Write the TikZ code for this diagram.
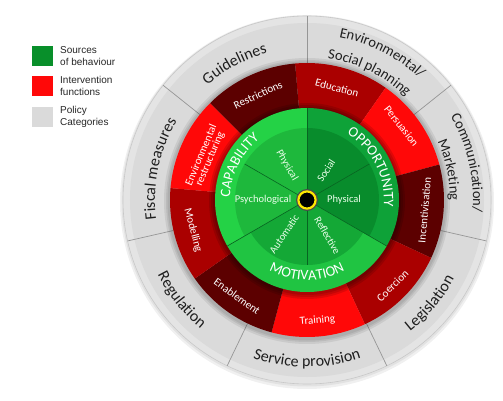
\documentclass[tikz,border=0pt]{standalone}
\usepackage{fontspec}
\setmainfont{Carlito}
\newfontfamily\legfont{Liberation Sans}
\usetikzlibrary{decorations.text}
\definecolor{rimgrey}{RGB}{228,228,228}
\definecolor{rimline}{RGB}{200,200,200}
\definecolor{ringgrey}{RGB}{218,218,218}
\definecolor{sepgrey}{RGB}{150,150,150}
\definecolor{redbright}{RGB}{255,8,8}
\definecolor{redmid}{RGB}{170,0,0}
\definecolor{reddark}{RGB}{92,0,0}
\definecolor{capband}{RGB}{36,210,70}
\definecolor{capin}{RGB}{30,184,60}
\definecolor{oppband}{RGB}{14,162,56}
\definecolor{oppin}{RGB}{8,140,44}
\definecolor{motband}{RGB}{32,196,66}
\definecolor{motin}{RGB}{20,168,54}
\definecolor{divline}{RGB}{8,100,34}
\definecolor{leggreen}{RGB}{8,143,42}
\definecolor{greytext}{RGB}{30,30,30}
\tikzset{
  redlab/.style={text=white, font=\fontsize{11}{11.5}\selectfont, inner sep=0pt, align=center},
  innerlab/.style={text=white!92!green, font=\fontsize{10.5}{11}\selectfont, inner sep=0pt},
  legbox/.style={minimum width=21pt, minimum height=20pt, inner sep=0pt, draw=none},
  legtext/.style={anchor=west, align=left, inner sep=0pt, font=\legfont\fontsize{10}{12}\selectfont, text=black!85},
  sepline/.style={draw=sepgrey, line width=0.7pt},
  gline/.style={draw=divline, line width=0.6pt}
}
\newcommand{\greyfont}{\color{greytext}\fontsize{16}{16}\selectfont}
\newcommand{\greyfontsm}{\color{greytext}\fontsize{14.5}{14.5}\selectfont}
\newcommand{\greenfont}{\color{white}\fontsize{14.5}{14.5}\selectfont}
\begin{document}
\begin{tikzpicture}[x=1pt,y=1pt]
\useasboundingbox (-307,-201) rectangle (196,200);
% wheel shadow
\fill[black,opacity=0.06] (0,-2) circle (187);
\fill[black,opacity=0.06] (0,-1) circle (185.5);
% grey ring
\fill[rimgrey] (0,0) circle (184);
\draw[rimline, line width=0.6pt] (0,0) circle (184);
\fill[ringgrey] (0,0) circle (177);
\foreach \a in {90,141.43,192.86,244.29,295.71,347.14,38.57}
  \draw[sepline] (\a:137) -- (\a:184);
% shadow of red ring
\foreach \r in {143,141,139.5}
  \fill[black,opacity=0.07] (0,-1) circle (\r);
% red sectors
\foreach \a/\c in {55/redmid,15/redbright,-25/reddark,-65/redmid,-105/redbright,-145/reddark,175/redmid,135/redbright,95/reddark}
  \fill[\c] (0,0) -- (\a:137) arc[start angle=\a, end angle=\a+40, radius=137] -- cycle;
% shadow of green disc
\foreach \r in {98,96,94}
  \fill[black,opacity=0.12] (0,-1) circle (\r);
% green sectors
\fill[capband] (0,0) -- (90:92) arc[start angle=90, end angle=210, radius=92] -- cycle;
\fill[oppband] (0,0) -- (-30:92) arc[start angle=-30, end angle=90, radius=92] -- cycle;
\fill[motband] (0,0) -- (210:92) arc[start angle=210, end angle=330, radius=92] -- cycle;
\fill[capin] (0,0) -- (90:72) arc[start angle=90, end angle=210, radius=72] -- cycle;
\fill[oppin] (0,0) -- (-30:72) arc[start angle=-30, end angle=90, radius=72] -- cycle;
\fill[motin] (0,0) -- (210:65) arc[start angle=210, end angle=330, radius=65] -- cycle;
\foreach \a in {90,210,330} \draw[gline] (0,0) -- (\a:92);
\draw[gline] (0,0) -- (150:72);
\draw[gline] (0,0) -- (30:72);
\draw[gline] (0,0) -- (270:65);
% centre
\fill[black!70] (0,0) circle (11);
\draw[draw=yellow!90!orange, line width=2.2pt, fill=black] (0,0) circle (8.6);
% green band labels
\path[decorate, decoration={text along path, text align=center, text={|\greenfont|CAPABILITY}}]
  (198:77) arc[start angle=198, end angle=108, radius=77];
\path[decorate, decoration={text along path, text align=center, text={|\greenfont|OPPORTUNITY}}]
  (72:77) arc[start angle=72, end angle=-18, radius=77];
\path[decorate, decoration={text along path, text align=center, text={|\greenfont|MOTIVATION}}]
  (230:80) arc[start angle=230, end angle=310, radius=80];
% inner labels
\node[innerlab, rotate=-60] (capphys) at (120:40) {Physical};
\node[innerlab] (psych) at (180:44) {Psychological};
\node[innerlab, rotate=57] (social) at (57:35) {Social};
\node[innerlab] (oppphys) at (0:37) {Physical};
\node[innerlab, rotate=56] (auto) at (236:41) {Automatic};
\node[innerlab, rotate=-60] (refl) at (300:41) {Reflective};
% red ring labels
\node[redlab, rotate=25] (restr) at (115:116) {Restrictions};
\node[redlab, rotate=-15] (educ) at (75:116) {Education};
\node[redlab, rotate=-52] (pers) at (38:120) {Persuasion};
\node[redlab, rotate=67] (envr) at (157:110) {Environmental\\[-2pt]restructuring};
\node[redlab, rotate=85] (incent) at (-5:118) {Incentivisation};
\node[redlab, rotate=45] (coerc) at (-45:121) {Coercion};
\node[redlab, rotate=5] (train) at (-85:121) {Training};
\node[redlab, rotate=-36] (enab) at (-126:119) {Enablement};
\node[redlab, rotate=-75] (model) at (195:118) {Modelling};
% grey ring labels
\path[decorate, decoration={text along path, text align=center, text={|\greyfont|Guidelines}}]
  (150:152) arc[start angle=150, end angle=86, radius=152];
\path[decorate, decoration={text along path, text align=center, text={|\greyfontsm|Environmental/}}]
  (103:166) arc[start angle=103, end angle=23, radius=166];
\path[decorate, decoration={text along path, text align=center, text={|\greyfontsm|Social planning}}]
  (104:143) arc[start angle=104, end angle=24, radius=143];
\path[decorate, decoration={text along path, text align=center, text={|\greyfontsm|Communication/}}]
  (53:166) arc[start angle=53, end angle=-27, radius=166];
\path[decorate, decoration={text along path, text align=center, text={|\greyfontsm|Marketing}}]
  (52:143) arc[start angle=52, end angle=-28, radius=143];
\path[decorate, decoration={text along path, text align=center, text={|\greyfont|Fiscal measures}}]
  (208:152) arc[start angle=208, end angle=128, radius=152];
\path[decorate, decoration={text along path, text align=center, text={|\greyfont|Regulation}}]
  (186:167) arc[start angle=186, end angle=251, radius=167];
\path[decorate, decoration={text along path, text align=center, text={|\greyfont|Service provision}}]
  (230:167) arc[start angle=230, end angle=310, radius=167];
\path[decorate, decoration={text along path, text align=center, text={|\greyfont|Legislation}}]
  (288:167) arc[start angle=288, end angle=352, radius=167];
% legend
\node[legbox, fill=leggreen] (lg) at (-264.5,144) {};
\node[legbox, fill=redbright] (lr) at (-264.5,114) {};
\node[legbox, fill=ringgrey] (lp) at (-264.5,83) {};
\node[legtext] (lgt) at (-247,144) {Sources\\of behaviour};
\node[legtext] (lrt) at (-247,114) {Intervention\\functions};
\node[legtext] (lpt) at (-247,83) {Policy\\Categories};
\end{tikzpicture}
\end{document}
